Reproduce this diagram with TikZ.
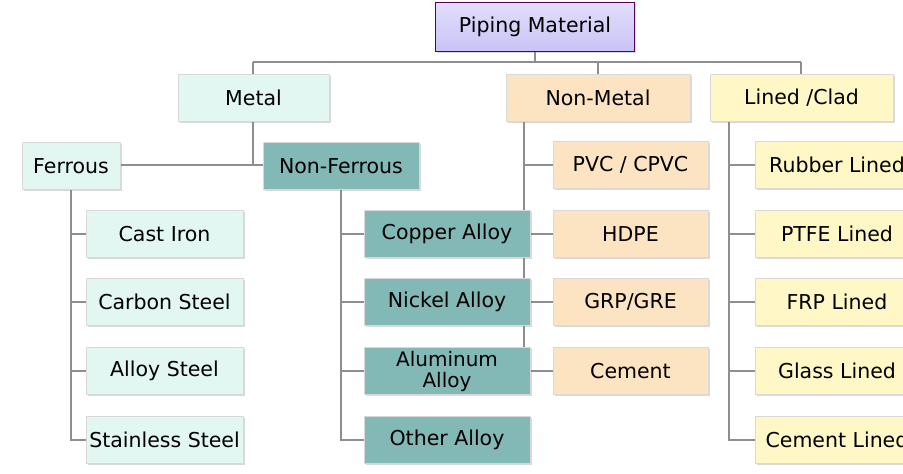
\documentclass[tikz,border=0pt]{standalone}
\usepackage{fontspec}
\setmainfont{DejaVu Sans}
\usetikzlibrary{shadows}
\definecolor{mint}{HTML}{E2F7F2}
\definecolor{teal}{HTML}{82B8B6}
\definecolor{peach}{HTML}{FCE3C2}
\definecolor{lyel}{HTML}{FFF7C6}
\definecolor{lav}{HTML}{C9C3F7}
\definecolor{line}{HTML}{8E8E8E}
\tikzset{
 box/.style={draw=black!15, line width=0.8pt, minimum height=47pt, inner sep=0pt, font=\fontsize{20.5}{22}\selectfont, drop shadow={shadow xshift=1.5pt, shadow yshift=-1.5pt, opacity=0.3}},
 mb/.style={box, fill=mint},
 tb/.style={box, fill=teal},
 pb/.style={box, fill=peach},
 yb/.style={box, fill=lyel},
 conn/.style={draw=line, line width=1.8pt},
}
\begin{document}
\begin{tikzpicture}[x=1pt,y=-1pt]
\useasboundingbox (0,0) rectangle (903,474);
\clip (0,0) rectangle (903,474);
% connectors
\coordinate (bus0) at (535,62);
\coordinate (busL) at (253,62);
\coordinate (busR) at (801,62);
\draw[conn] (535,50) -- (bus0);
\draw[conn] (busL) -- (busR);
\draw[conn] (253,62) -- (253,75);
\draw[conn] (598,62) -- (598,75);
\draw[conn] (801,62) -- (801,75);
\draw[conn] (253,120) -- (253,165) ;
\draw[conn] (120,165) -- (265,165);
\draw[conn] (71,190) -- (71,440) -- (88,440);
\foreach \yy in {234,302,371} \draw[conn] (71,\yy) -- (88,\yy);
\draw[conn] (341,190) -- (341,440) -- (366,440);
\foreach \yy in {234,302,371} \draw[conn] (341,\yy) -- (366,\yy);
\draw[conn] (524,120) -- (524,371) -- (555,371);
\foreach \yy in {165,234,302} \draw[conn] (524,\yy) -- (555,\yy);
\draw[conn] (729,120) -- (729,440) -- (757,440);
\foreach \yy in {165,234,302,371} \draw[conn] (729,\yy) -- (757,\yy);
% nodes
\node[box, draw=violet!70!black, top color=lav!55, bottom color=lav, minimum width=199pt, minimum height=49pt] (pm) at (535,27) {Piping Material};
\node[mb, minimum width=151pt] (metal) at (253.5,97.5) {Metal};
\node[pb, minimum width=184pt] (nm) at (598,97.5) {Non-Metal};
\node[yb, minimum width=183pt] (lc) at (801.5,97.5) {Lined /Clad};
\node[mb, minimum width=98pt] (fe) at (71,166) {Ferrous};
\node[tb, minimum width=156pt] (nf) at (341,166) {Non-Ferrous};
\foreach \yy/\n/\tx in {234/ci/Cast Iron,302/cs/Carbon Steel,371/as/Alloy Steel,440/ss/Stainless Steel}
  \node[mb, minimum width=157pt] (\n) at (164.5,\yy) {\tx};
\foreach \yy/\n/\tx in {234/ca/Copper Alloy,302/na/Nickel Alloy,440/oa/Other Alloy}
  \node[tb, minimum width=166pt] (\n) at (447,\yy) {\tx};
\node[tb, minimum width=166pt, align=center, font=\fontsize{20}{21}\selectfont] (al) at (447,371) {Aluminum\\Alloy};
\node[pb, minimum width=155pt] (pvc) at (630.5,165) {PVC / CPVC};
\node[pb, minimum width=155pt] (hd) at (630.5,234) {HDPE};
\node[pb, minimum width=155pt] (grp) at (630.5,302) {GRP/GRE};
\node[pb, minimum width=155pt] (ce) at (630.5,371) {Cement};
\foreach \yy/\n/\tx in {165/rl/Rubber Lined,234/pl/PTFE Lined,302/fl/FRP Lined,371/gl/Glass Lined,440/cl/Cement Lined}
  \node[yb, minimum width=164pt] (\n) at (837,\yy) {\tx};
\end{tikzpicture}
\end{document}
